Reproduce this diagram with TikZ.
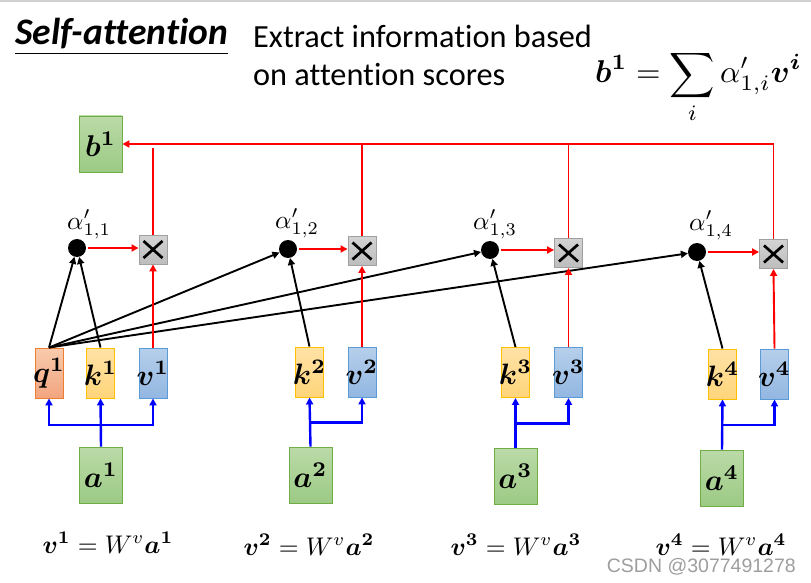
\documentclass[tikz,border=0pt]{standalone}
\usepackage{amsmath,bm}
\usepackage[no-math]{fontspec}
\setmainfont{Carlito}[Ligatures={NoCommon}]
\newfontfamily\wmfont{Liberation Sans}
\usetikzlibrary{arrows.meta}
\newcommand{\smath}[2]{\scalebox{#1}{$#2$}}
\newcommand{\boxm}[2]{\makebox[0pt]{\scalebox{#1}{$#2$}}}
\definecolor{qfill1}{HTML}{F8CBAD}
\definecolor{qfill2}{HTML}{F2A57F}
\definecolor{qline}{HTML}{ED7D31}
\definecolor{kfill1}{HTML}{FFE2A6}
\definecolor{kfill2}{HTML}{FFD57A}
\definecolor{kline}{HTML}{FFC000}
\definecolor{vfill1}{HTML}{B6CFEB}
\definecolor{vfill2}{HTML}{92B7E2}
\definecolor{vline}{HTML}{5B9BD5}
\definecolor{gfill1}{HTML}{BBDAA8}
\definecolor{gfill2}{HTML}{9CCA84}
\definecolor{gline}{HTML}{70AD47}
\definecolor{xfill1}{HTML}{D3D3D3}
\definecolor{xfill2}{HTML}{BDBDBD}
\definecolor{xline}{HTML}{A0A0A0}
\definecolor{pured}{HTML}{FF0000}
\definecolor{pureblue}{HTML}{0000FF}
\begin{document}
\begin{tikzpicture}[x=1pt,y=-1pt,
  vecbox/.style={draw, line width=0.9pt, minimum width=28pt, minimum height=50pt, inner sep=0pt,
     font=\fontsize{10}{12}\selectfont},
  qbox/.style={vecbox, draw=qline, top color=qfill1, bottom color=qfill2},
  kbox/.style={vecbox, draw=kline, top color=kfill1, bottom color=kfill2},
  vbox/.style={vecbox, draw=vline, top color=vfill1, bottom color=vfill2},
  gbox/.style={vecbox, draw=gline, top color=gfill1, bottom color=gfill2, minimum width=43pt, minimum height=56pt},
  xbox/.style={draw=xline, line width=0.9pt, top color=xfill1, bottom color=xfill2, minimum width=28pt, minimum height=29pt, inner sep=0pt,
     path picture={\draw[line width=2.7pt, black]
        ([xshift=-9.5pt,yshift=-8.5pt]path picture bounding box.center) -- ([xshift=9.5pt,yshift=8.5pt]path picture bounding box.center)
        ([xshift=-9.5pt,yshift=8.5pt]path picture bounding box.center) -- ([xshift=9.5pt,yshift=-8.5pt]path picture bounding box.center);}},
  dotnode/.style={circle, fill=black, minimum size=18pt, inner sep=0pt},
  alab/.style={anchor=base west, inner sep=0pt, font=\fontsize{10}{12}\selectfont},
  eqlab/.style={anchor=base, inner sep=0pt, font=\fontsize{10}{12}\selectfont},
  blk/.style={line width=1.9pt, -{Triangle[length=7pt,width=7pt]}},
  redarr/.style={pured, line width=1.9pt, -{Triangle[length=7pt,width=7pt]}},
  redline/.style={pured, line width=1.9pt},
  bluearr/.style={pureblue, line width=2.4pt, -{Triangle[length=7pt,width=7pt]}},
  blueline/.style={pureblue, line width=2.4pt}
]
\useasboundingbox (0,0) rectangle (811,583);
\fill[white] (0,0) rectangle (811,583);
\draw[black!18, line width=2pt] (0,1) -- (811,1);

% title and texts
\node[anchor=base west, inner sep=0pt, font=\fontsize{37.5}{38}\selectfont\bfseries\itshape] (title) at (15,45) {Self-attention};
\draw[line width=1pt] (15,54) -- (228,54);
\node[anchor=base west, inner sep=0pt, font=\fontsize{32.3}{33}\selectfont] (t1) at (253,48) {Extract information based};
\node[anchor=base west, inner sep=0pt, font=\fontsize{32.3}{33}\selectfont] (t2) at (253,86) {on attention scores};
\node[anchor=base west, inner sep=0pt, font=\fontsize{10}{12}\selectfont] (formula) at (595,83)
  {\smath{3.15}{\displaystyle \bm{b^1} = \sum_i \alpha'_{1,i}\bm{v^i}}};

% b1
\node[gbox] (b1) at (100.5,144) {\boxm{3.0}{\bm{b^1}}};

% dots
\node[dotnode] (d1) at (77,248) {};
\node[dotnode] (d2) at (288,249) {};
\node[dotnode] (d3) at (490,250) {};
\node[dotnode] (d4) at (697,252) {};
\node[alab] (al1) at (67,229) {\smath{2.55}{\alpha'_{1,1}}};
\node[alab] (al2) at (275,228) {\smath{2.55}{\alpha'_{1,2}}};
\node[alab] (al3) at (473,229) {\smath{2.55}{\alpha'_{1,3}}};
\node[alab] (al4) at (689,230) {\smath{2.55}{\alpha'_{1,4}}};

% multiply boxes
\node[xbox] (x1) at (153,249.5) {};
\node[xbox] (x2) at (362,251) {};
\node[xbox] (x3) at (568.5,253) {};
\node[xbox] (x4) at (773.5,254) {};

% q k v
\node[qbox] (q1) at (49,373) {\boxm{2.95}{\bm{q^1}}};
\node[kbox] (k1) at (100.5,373) {\boxm{2.95}{\bm{k^1}}};
\node[vbox] (v1) at (153,373) {\boxm{2.95}{\bm{v^1}}};
\node[kbox] (k2) at (309.5,372) {\boxm{2.95}{\bm{k^2}}};
\node[vbox] (v2) at (362,372) {\boxm{2.95}{\bm{v^2}}};
\node[kbox] (k3) at (515.5,372.5) {\boxm{2.95}{\bm{k^3}}};
\node[vbox] (v3) at (568.5,372.5) {\boxm{2.95}{\bm{v^3}}};
\node[kbox] (k4) at (722.5,374) {\boxm{2.95}{\bm{k^4}}};
\node[vbox] (v4) at (774.5,374) {\boxm{2.95}{\bm{v^4}}};

% a
\node[gbox] (a1) at (101,475) {\boxm{3.0}{\bm{a^1}}};
\node[gbox] (a2) at (310.5,475) {\boxm{3.0}{\bm{a^2}}};
\node[gbox] (a3) at (515.5,476) {\boxm{3.0}{\bm{a^3}}};
\node[gbox] (a4) at (722,478) {\boxm{3.0}{\bm{a^4}}};

% equations
\node[eqlab] (e1) at (108,553) {\smath{2.55}{\bm{v^1} = W^v\bm{a^1}}};
\node[eqlab] (e2) at (309,555) {\smath{2.55}{\bm{v^2} = W^v\bm{a^2}}};
\node[eqlab] (e3) at (516,555) {\smath{2.55}{\bm{v^3} = W^v\bm{a^3}}};
\node[eqlab] (e4) at (721,555) {\smath{2.55}{\bm{v^4} = W^v\bm{a^4}}};

% watermark
\node[anchor=base east, inner sep=0pt, text=black!38, font=\wmfont\fontsize{19.5}{19.5}\selectfont] (wm) at (796,572) {CSDN @3077491278};

% black arrows
\draw[blk] (q1.north) -- (d1);
\draw[blk] (k1.north) -- (d1);
\draw[blk] (q1.north) -- (d2);
\draw[blk] (q1.north) -- (d3);
\draw[blk] (q1.north) -- (d4);
\draw[blk] (k2.north) -- (d2);
\draw[blk] (k3.north) -- (d3);
\draw[blk] (k4.north) -- (d4);

% red
\foreach \i in {1,2,3,4}{
  \draw[redarr, shorten <=2pt] (d\i) -- (x\i.west |- d\i);
  \draw[redarr] (v\i.north) -- (x\i.south);
}
\coordinate (r1) at (153,148);
\draw[redline] (x1.north) -- (r1);
\draw[redline] (x2.north) -- (x2.north |- b1.east);
\draw[redline] (x3.north) -- (x3.north |- b1.east);
\draw[redarr] (x4.north) |- (b1.east);

% blue
\coordinate (j1) at (101,425);
\coordinate (j2) at (310.5,422.5);
\coordinate (j3) at (515.5,423.5);
\coordinate (j4) at (722,425);
\draw[bluearr] (a1.north) -- (k1.south);
\draw[bluearr] (j1) -| (q1.south);
\draw[bluearr] (j1) -| (v1.south);
\draw[bluearr] (a2.north) -- (k2.south);
\draw[bluearr] (j2) -| (v2.south);
\draw[bluearr] (a3.north) -- (k3.south);
\draw[bluearr] (j3) -| (v3.south);
\draw[bluearr] (a4.north) -- (k4.south);
\draw[bluearr] (j4) -| (v4.south);
\end{tikzpicture}
\end{document}
